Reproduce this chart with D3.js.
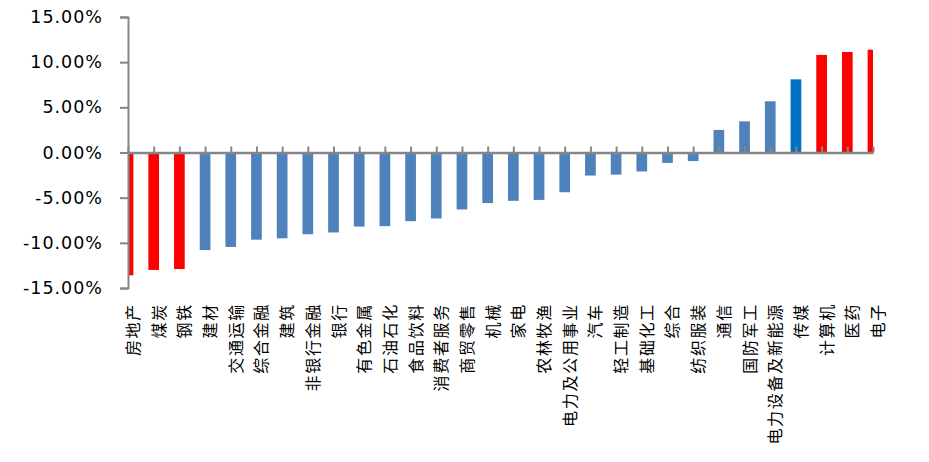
<!DOCTYPE html>
<html>
<head>
<meta charset="utf-8">
<script src="https://cdn.jsdelivr.net/npm/d3@7"></script>
<style>
  body { margin: 0; background: #fff; }
  #chart svg { display: block; }
</style>
</head>
<body>
<div id="chart"></div>
<script>
// Industry names (left to right)
const categories = [
  "房地产", "煤炭", "钢铁", "建材", "交通运输", "综合金融", "建筑", "非银行金融",
  "银行", "有色金属", "石油石化", "食品饮料", "消费者服务", "商贸零售", "机械", "家电",
  "农林牧渔", "电力及公用事业", "汽车", "轻工制造", "基础化工", "综合", "纺织服装", "通信",
  "国防军工", "电力设备及新能源", "传媒", "计算机", "医药", "电子"
];

// Return, in percent
const values = [
  -13.6, -13.0, -12.9, -10.8, -10.45, -9.65, -9.5, -9.05,
  -8.85, -8.2, -8.15, -7.6, -7.3, -6.3, -5.6, -5.35,
  -5.25, -4.4, -2.55, -2.45, -2.1, -1.15, -0.95, 2.5,
  3.45, 5.67, 8.1, 10.8, 11.13, 11.38
];

// Highlight groups: worst three and best three in red, 传媒 in dark blue
const redCategories = ["房地产", "煤炭", "钢铁", "计算机", "医药", "电子"];
const darkCategories = ["传媒"];

const yTicks = [15, 10, 5, 0, -5, -10, -15];

const width = 929;
const height = 462;
const marginLeft = 128;
const marginRight = 56;
const yTop = 17;
const yBottom = 288;

const data = categories.map((c, i) => ({ name: c, value: values[i] }));

const svg = d3.select("#chart")
  .append("svg")
  .attr("width", width)
  .attr("height", height);

const x = d3.scalePoint()
  .domain(categories)
  .range([marginLeft, width - marginRight]);

const y = d3.scaleLinear()
  .domain([-15, 15])
  .range([yBottom, yTop]);

const barWidth = 10.7;

// clip bars to the plot area (first and last bars are cut in half)
svg.append("clipPath")
  .attr("id", "plot-clip")
  .append("rect")
  .attr("x", marginLeft)
  .attr("y", 0)
  .attr("width", width - marginRight - marginLeft)
  .attr("height", height);

svg.append("g")
  .attr("clip-path", "url(#plot-clip)")
  .selectAll("rect")
  .data(data)
  .join("rect")
  .attr("x", d => x(d.name) - barWidth / 2)
  .attr("y", d => y(Math.max(0, d.value)))
  .attr("width", barWidth)
  .attr("height", d => Math.abs(y(d.value) - y(0)))
  .attr("fill", d => redCategories.includes(d.name) ? "#ff0000"
    : darkCategories.includes(d.name) ? "#0070c0" : "#4f81bd");

// y axis
const yAxis = d3.axisLeft(y)
  .tickValues(yTicks)
  .tickSize(8)
  .tickPadding(17)
  .tickFormat(d => d.toFixed(2) + "%");

const gy = svg.append("g")
  .attr("transform", `translate(${marginLeft},0)`)
  .call(yAxis);

gy.select(".domain").attr("stroke", "#868686").attr("stroke-width", 2);
gy.selectAll(".tick line").attr("stroke", "#868686").attr("stroke-width", 2);
gy.selectAll(".tick text")
  .attr("fill", "#000")
  .style("font-family", "'DejaVu Sans', Verdana, sans-serif")
  .style("font-size", "17.5px")
  .style("letter-spacing", "1px");

// x axis along zero, ticks pointing up
const xAxis = d3.axisTop(x)
  .tickSize(6)
  .tickSizeOuter(0)
  .tickFormat("");

const gx = svg.append("g")
  .attr("transform", `translate(0,${y(0)})`)
  .call(xAxis);

gx.select(".domain").attr("stroke", "#868686").attr("stroke-width", 2.5);
gx.selectAll(".tick line").attr("stroke", "#868686").attr("stroke-width", 2);

// vertical category labels
svg.append("g")
  .selectAll("text")
  .data(categories)
  .join("text")
  .attr("transform", d => `translate(${x(d) + 4},303) rotate(-90)`)
  .attr("text-anchor", "end")
  .attr("dominant-baseline", "central")
  .style("font-family", "'Noto Sans CJK SC', sans-serif")
  .style("font-size", "16px")
  .style("letter-spacing", "1.7px")
  .attr("fill", "#000")
  .text(d => d);
</script>
</body>
</html>
